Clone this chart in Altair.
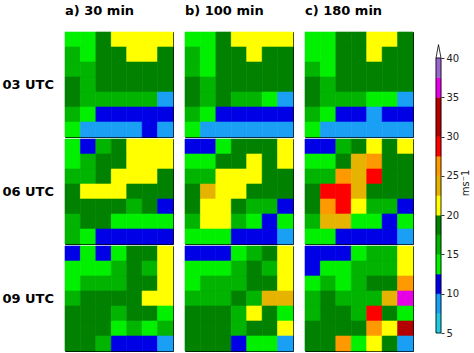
import altair as alt
import pandas as pd

runs = ["a) 30 min", "b) 100 min", "c) 180 min"]
times = ["03 UTC", "06 UTC", "09 UTC"]

# wind speed (m/s) per cell, 7x7 per panel, rows top->bottom
a03 = [[14, 14, 19, 21, 21, 21, 21],
       [16, 14, 19, 19, 21, 21, 19],
       [16, 16, 19, 19, 19, 19, 19],
       [19, 16, 19, 19, 19, 19, 19],
       [19, 16, 16, 16, 16, 16, 9],
       [16, 14, 11, 11, 11, 11, 11],
       [14, 9, 9, 9, 9, 11, 9]]
b03 = [[14, 14, 19, 21, 21, 21, 21],
       [16, 14, 19, 19, 21, 19, 19],
       [16, 14, 19, 19, 19, 19, 19],
       [19, 16, 19, 19, 19, 19, 19],
       [19, 16, 19, 16, 16, 14, 9],
       [16, 14, 11, 11, 11, 11, 11],
       [14, 9, 9, 9, 9, 9, 9]]
c03 = [[14, 14, 19, 19, 21, 21, 19],
       [14, 14, 19, 19, 21, 19, 19],
       [16, 14, 19, 19, 19, 19, 19],
       [19, 16, 19, 19, 19, 19, 19],
       [19, 16, 16, 16, 14, 14, 9],
       [16, 14, 11, 11, 9, 11, 11],
       [14, 9, 9, 9, 9, 9, 9]]
a06 = [[14, 11, 16, 19, 21, 21, 21],
       [14, 16, 19, 19, 21, 21, 21],
       [16, 16, 19, 21, 21, 21, 19],
       [19, 21, 21, 21, 19, 19, 19],
       [19, 19, 19, 19, 16, 19, 11],
       [16, 19, 19, 14, 14, 14, 14],
       [16, 14, 11, 11, 11, 11, 11]]
b06 = [[11, 11, 14, 19, 19, 19, 21],
       [14, 14, 19, 19, 21, 19, 21],
       [16, 16, 21, 21, 21, 19, 19],
       [19, 24, 21, 21, 19, 19, 19],
       [19, 21, 21, 19, 16, 16, 11],
       [16, 21, 21, 16, 14, 11, 14],
       [14, 14, 14, 11, 11, 11, 9]]
c06 = [[11, 11, 16, 19, 21, 19, 21],
       [14, 14, 19, 24, 26, 19, 19],
       [16, 16, 26, 24, 29, 19, 19],
       [19, 29, 29, 24, 19, 19, 19],
       [19, 26, 29, 21, 16, 16, 11],
       [16, 24, 24, 14, 14, 11, 14],
       [14, 14, 11, 11, 11, 11, 9]]
a09 = [[11, 14, 11, 14, 19, 19, 21],
       [14, 14, 14, 16, 19, 16, 21],
       [14, 16, 16, 16, 19, 19, 21],
       [16, 19, 19, 19, 19, 21, 21],
       [19, 19, 19, 16, 19, 19, 14],
       [19, 19, 19, 14, 16, 14, 16],
       [19, 19, 16, 11, 11, 11, 9]]
b09 = [[11, 11, 11, 14, 16, 19, 21],
       [14, 14, 14, 16, 19, 16, 21],
       [14, 16, 16, 16, 19, 19, 21],
       [16, 16, 16, 19, 16, 24, 24],
       [19, 19, 19, 16, 21, 19, 14],
       [19, 19, 19, 16, 19, 19, 21],
       [19, 19, 19, 11, 14, 14, 9]]
c09 = [[11, 11, 11, 14, 16, 16, 21],
       [11, 14, 14, 16, 16, 16, 21],
       [14, 16, 14, 16, 19, 19, 26],
       [16, 19, 16, 16, 16, 24, 36],
       [16, 19, 19, 16, 29, 19, 14],
       [19, 19, 19, 19, 26, 21, 32],
       [19, 19, 26, 14, 21, 19, 9]]

panels = {
    ("03 UTC", runs[0]): a03, ("03 UTC", runs[1]): b03, ("03 UTC", runs[2]): c03,
    ("06 UTC", runs[0]): a06, ("06 UTC", runs[1]): b06, ("06 UTC", runs[2]): c06,
    ("09 UTC", runs[0]): a09, ("09 UTC", runs[1]): b09, ("09 UTC", runs[2]): c09,
}

# colour levels
levels_lo = [5, 7.5, 10, 12.5, 15, 17.5, 20, 22.5, 25, 27.5, 30, 35, 37.5]
levels_hi = [7.5, 10, 12.5, 15, 17.5, 20, 22.5, 25, 27.5, 30, 35, 37.5, 40]
level_colors = ["#22c8e0", "#19a0f5", "#0000e6", "#00f000", "#00b400", "#008200",
                "#ffff00", "#e6b400", "#ff9900", "#ff0000", "#b40000", "#e600e6", "#9966cc"]
tick_values = [5, 10, 15, 20, 25, 30, 35, 40]

rows = []
for (t, r), grid in panels.items():
    for i, line in enumerate(grid):
        for j, v in enumerate(line):
            rows.append({"time": t, "run": r, "row": i, "col": j, "v": v})
df = pd.DataFrame(rows)

cscale = alt.Scale(type="threshold", domain=levels_lo[1:], range=level_colors)
FONT = "DejaVu Sans"

heat = alt.Chart(df).mark_rect(strokeWidth=0.6).encode(
    x=alt.X("col:O", axis=None),
    y=alt.Y("row:O", axis=None),
    color=alt.Color("v:Q", scale=cscale, legend=None),
    stroke=alt.Stroke("v:Q", scale=cscale, legend=None),
).properties(width=108, height=105).facet(
    row=alt.Row("time:N", sort=times, title=None,
                header=alt.Header(labelAngle=0, labelOrient="left", labelAlign="left",
                                  labelFont=FONT, labelFontWeight="bold", labelFontSize=13,
                                  labelColor="black", labelPadding=10)),
    column=alt.Column("run:N", sort=runs, title=None,
                      header=alt.Header(labelFont=FONT, labelFontWeight="bold", labelFontSize=13,
                                        labelColor="black", labelAnchor="start", labelAlign="left",
                                        labelPadding=13)),
    spacing={"row": 0, "column": 10},
)

cb = pd.DataFrame({"lo": levels_lo, "hi": levels_hi,
                   "mid": [(a + b) / 2 for a, b in zip(levels_lo, levels_hi)]})
H = 301
ymax = 5 + H / (275 / 35)
yscale = alt.Scale(domain=[5, ymax], nice=False, zero=False)

bar = alt.Chart(cb).mark_rect(strokeWidth=0.5).encode(
    x=alt.value(0), x2=alt.value(5),
    y=alt.Y("lo:Q", scale=yscale,
            axis=alt.Axis(values=tick_values, orient="right", domain=False, grid=False,
                          tickSize=3, tickColor="#333", labelFont=FONT, labelFontSize=10,
                          labelColor="#222", title="ms\u207b1", titleAngle=270,
                          titleBaseline="top",
                          titleFont=FONT, titleFontSize=10, titleFontWeight="normal",
                          titleColor="#222", titlePadding=2)),
    y2="hi:Q",
    color=alt.Color("mid:Q", scale=cscale, legend=None),
    stroke=alt.Stroke("mid:Q", scale=cscale, legend=None),
)
outline = alt.Chart(pd.DataFrame({"lo": [5], "hi": [40]})).mark_rect(
    fill=None, stroke="black", strokeWidth=0.8).encode(
    x=alt.value(0), x2=alt.value(5), y=alt.Y("lo:Q", scale=yscale), y2="hi:Q")
tri = alt.Chart(pd.DataFrame({"px": [0, 0.5, 1], "py": [40, 41.7, 40]})).mark_line(
    color="black", strokeWidth=0.8).encode(
    x=alt.X("px:Q", scale=alt.Scale(domain=[0, 1]), axis=None),
    y=alt.Y("py:Q", scale=yscale))
colorbar = alt.layer(bar, outline, tri).properties(
    width=5, height=H, view=alt.ViewBackground(strokeOpacity=0))

chart = alt.hconcat(heat, colorbar, spacing=20).configure_view(
    stroke="black", strokeWidth=1).properties(
    padding={"left": 2, "top": 5, "right": 2, "bottom": 2}, background="white")

chart.save("out.html", embed_options={"renderer": "svg", "actions": False})
